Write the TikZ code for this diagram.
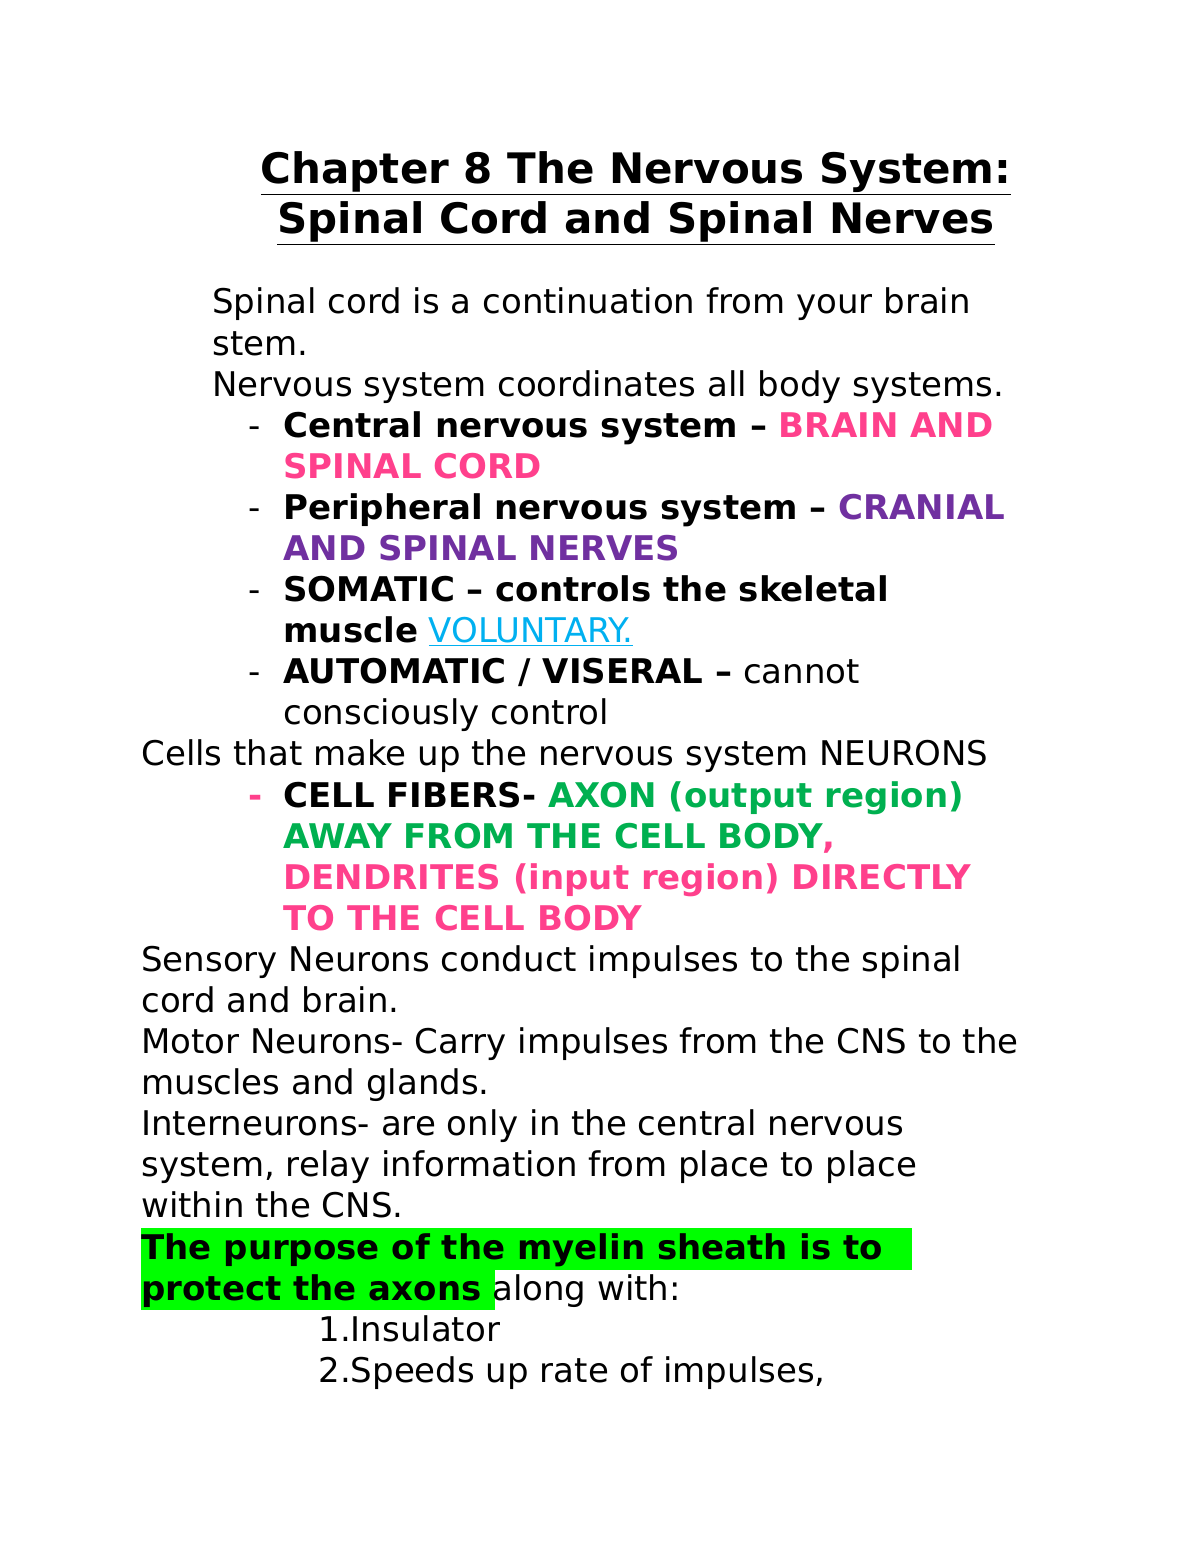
\documentclass[tikz,border=0pt]{standalone}
\usepackage{fontspec}
\setmainfont{DejaVu Sans}
\definecolor{pk}{RGB}{255,64,140}
\definecolor{pu}{RGB}{112,48,160}
\definecolor{bl}{RGB}{0,176,240}
\definecolor{gr}{RGB}{0,176,80}
\definecolor{hl}{RGB}{0,255,0}
\tikzset{ln/.style={anchor=base west,inner sep=0pt,font=\fontsize{17bp}{20bp}\selectfont},
ttl/.style={anchor=base,inner sep=0pt,font=\fontsize{21bp}{25bp}\selectfont\bfseries}}
\begin{document}
\begin{tikzpicture}[x=0.5bp,y=-0.5bp]
\useasboundingbox (0,0) rectangle (1200,1553);
\fill[white] (0,0) rectangle (1200,1553);
\fill[hl] (141,1228) rectangle (912,1270);
\fill[hl] (141,1269) rectangle (495,1310);
\node[ttl] (t1) at (636,183) {\underline{Chapter 8 The Nervous System:}};
\node[ttl] (t2) at (636,233) {\underline{Spinal Cord and Spinal Nerves}};
\node[ln] (l1) at (212,313) {Spinal cord is a continuation from your brain};
\node[ln] (l2) at (212,355) {stem.};
\node[ln] (l3) at (212,396) {Nervous system coordinates all body systems.};
\node[ln] (d1) at (248,437) {-};
\node[ln] (l4) at (283,437) {\textbf{Central nervous system – \textcolor{pk}{BRAIN AND}}};
\node[ln] (l5) at (283,478) {\textbf{\textcolor{pk}{SPINAL CORD}}};
\node[ln] (d2) at (248,519) {-};
\node[ln] (l6) at (283,519) {\textbf{Peripheral nervous system – \textcolor{pu}{CRANIAL}}};
\node[ln] (l7) at (283,560) {\textbf{\textcolor{pu}{AND SPINAL NERVES}}};
\node[ln] (d3) at (248,601) {-};
\node[ln] (l8) at (283,601) {\textbf{SOMATIC – controls the skeletal}};
\node[ln] (l9) at (283,642) {\textbf{muscle} \textcolor{bl}{\underline{VOLUNTARY.}}};
\node[ln] (d4) at (248,683) {-};
\node[ln] (l10) at (283,683) {\textbf{AUTOMATIC / VISERAL –} cannot};
\node[ln] (l11) at (283,724) {consciously control};
\node[ln] (l12) at (141,765) {Cells that make up the nervous system NEURONS};
\node[ln] (d5) at (248,807) {\textbf{\textcolor{pk}{-}}};
\node[ln] (l13) at (283,807) {\textbf{CELL FIBERS- \textcolor{gr}{AXON (output region)}}};
\node[ln] (l14) at (283,848) {\textbf{\textcolor{gr}{AWAY FROM THE CELL BODY}\textcolor{pk}{,}}};
\node[ln] (l15) at (283,889) {\textbf{\textcolor{pk}{DENDRITES (input region) DIRECTLY}}};
\node[ln] (l16) at (283,930) {\textbf{\textcolor{pk}{TO THE CELL BODY}}};
\node[ln] (l17) at (141,971) {Sensory Neurons conduct impulses to the spinal};
\node[ln] (l18) at (141,1012) {cord and brain.};
\node[ln] (l19) at (141,1053) {Motor Neurons- Carry impulses from the CNS to the};
\node[ln] (l20) at (141,1094) {muscles and glands.};
\node[ln] (l21) at (141,1135) {Interneurons- are only in the central nervous};
\node[ln] (l22) at (141,1176) {system, relay information from place to place};
\node[ln] (l23) at (141,1217) {within the CNS.};
\node[ln] (l24) at (141,1259) {\textbf{The purpose of the myelin sheath is to}};
\node[ln] (l25) at (141,1300) {\textbf{protect the axons} along with:};
\node[ln] (l26) at (318,1341) {1.Insulator};
\node[ln] (l27) at (318,1382) {2.Speeds up rate of impulses,};
\end{tikzpicture}
\end{document}
